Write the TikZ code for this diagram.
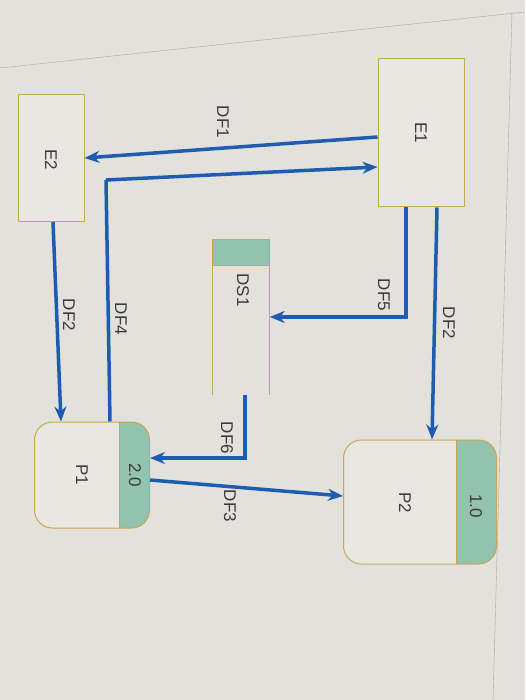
\documentclass[tikz,border=0pt]{standalone}
\usepackage{fontspec}
\setmainfont{Liberation Sans}
\usetikzlibrary{arrows.meta}

\definecolor{screen}{HTML}{E3E1DC}
\definecolor{boxfill}{HTML}{E9E7E2}
\definecolor{boxline}{HTML}{C9A650}
\definecolor{band}{HTML}{93C2AE}
\definecolor{flowblue}{HTML}{1F5CB0}
\definecolor{ink}{HTML}{3A3A3A}
\definecolor{edge}{HTML}{A9A7A2}

\newcommand{\rt}[1]{\rotatebox{-90}{#1}}

\tikzset{
	entity/.style={draw=boxline, fill=boxfill, line width=1pt, inner sep=0pt},
	process/.style={entity, rounded corners=18pt},
	idband/.style={path picture={
		\fill[band, sharp corners] ([xshift=-#1]path picture bounding box.north east) rectangle (path picture bounding box.south east);
		\draw[boxline, line width=1pt, sharp corners] ([xshift=-#1]path picture bounding box.north east) -- ([xshift=-#1]path picture bounding box.south east);}},
	flow/.style={draw=flowblue, line width=3.5pt, -{Stealth[length=15pt,width=12pt]}},
	lbl/.style={text=ink, font=\fontsize{17}{20}\selectfont, inner sep=0pt},
}

\begin{document}
\begin{tikzpicture}[x=1pt,y=-1pt]
		\useasboundingbox[fill=screen] (0,0) rectangle (525,700);
		\draw[edge] (0,68)--(525,12);
		\draw[edge] (512,12)--(493,700);
		
		% external entities
		\node[entity, minimum width=86pt, minimum height=148pt] (E1) at (421,133) {};
		\node[entity, minimum width=66pt, minimum height=127pt] (E2) at (51,158) {};
		\node[lbl] (E1name) at (421,133) {\rt{E1}};
		\node[lbl] (E2name) at (51,160) {\rt{E2}};
		
		% data store
		\node[minimum width=57pt, minimum height=155pt, inner sep=0pt] (DS1) at (241,317) {};
		\fill[band] (DS1.north west) rectangle ([yshift=-26pt]DS1.north east);
		\draw[boxline, line width=1pt] ([yshift=-26pt]DS1.north west)--([yshift=-26pt]DS1.north east);
		\draw[boxline, line width=1pt] (DS1.south west)--(DS1.north west)--(DS1.north east)--(DS1.south east);
		\node[lbl] (DS1name) at (243,290) {\rt{DS1}};
		
		% processes
		\node[process, idband=30pt, minimum width=115pt, minimum height=106pt] (P1) at (92,475) {};
		\node[process, idband=40pt, minimum width=153pt, minimum height=124pt] (P2) at (420,502) {};
		\node[lbl] (P1num) at (135,475) {\rt{2.0}};
		\node[lbl] (P1name) at (82,475) {\rt{P1}};
		\node[lbl] (P2num) at (476,506) {\rt{1.0}};
		\node[lbl] (P2name) at (405,503) {\rt{P2}};
		
		% data flows
		\coordinate (DF4corner) at (106,180);
		\draw[flow] ([yshift=-4pt]E1.west)--(E2.east);
		\draw[flow,-] ([xshift=18pt]P1.north)--(DF4corner);
		\draw[flow] (DF4corner)--([yshift=-34pt]E1.west);
		\draw[flow] ([xshift=2pt]E2.south)--([xshift=-31pt]P1.north);
		\draw[flow] ([xshift=-15pt]E1.south) |- (DS1.east);
		\draw[flow] ([xshift=16pt]E1.south)--([xshift=12pt]P2.north);
		\draw[flow] ([xshift=4pt]DS1.south) |- ([yshift=17pt]P1.east);
		\draw[flow] ([yshift=-5pt]P1.east)--([yshift=6pt]P2.west);
		
		\node[lbl] (DF1) at (223,122) {\rt{DF1}};
		\node[lbl] (DF4) at (121,319) {\rt{DF4}};
		\node[lbl] (DF2a) at (69,315) {\rt{DF2}};
		\node[lbl] (DF5) at (384,295) {\rt{DF5}};
		\node[lbl] (DF2b) at (449,323) {\rt{DF2}};
		\node[lbl] (DF6) at (227,438) {\rt{DF6}};
		\node[lbl] (DF3) at (230,506) {\rt{DF3}};
		
		\end{tikzpicture}
\end{document}
